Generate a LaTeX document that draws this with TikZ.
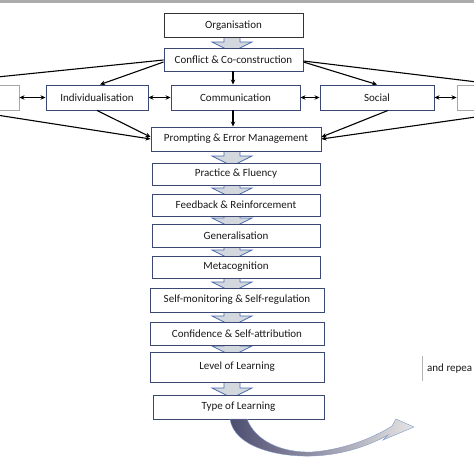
\documentclass[tikz,border=0pt]{standalone}
\usepackage{fontspec}
\setmainfont{Carlito}
\usetikzlibrary{calc,arrows.meta}
\definecolor{boxline}{HTML}{3C4874}
\definecolor{txt}{HTML}{1A1A1A}
\definecolor{barfill}{HTML}{D3D8DE}
\definecolor{barline}{HTML}{4D6DAE}
\tikzset{
  box/.style={draw=boxline, line width=0.9pt, fill=white, text=txt, inner sep=0pt,
    font=\fontsize{11}{13}\selectfont, minimum height=#1},
  box/.default=24pt,
  graybox/.style={box, draw=gray!70},
  link/.style={line width=1.1pt, black},
  arr/.style={link, -{Stealth[length=5pt,width=4.5pt]}},
  darr/.style={link, {Stealth[length=5pt,width=4.5pt]}-{Stealth[length=5pt,width=4.5pt]}},
  blockarrow/.style={fill=barfill, draw=barline, line width=0.8pt, line join=miter}
}
\newcommand{\blockdown}[2]{% #1 = top y, #2 = head base y
  \path[blockarrow] (224,#1) -- (224,#2) -- (212,#2) -- (232,#2+10) -- (252,#2) -- (240,#2) -- (240,#1) -- cycle;}
\begin{document}
\begin{tikzpicture}[x=1pt,y=-1pt]
\useasboundingbox (0,0) rectangle (474,474);
\clip (0,0) rectangle (474,474);
\fill[white] (0,0) rectangle (474,474);
\fill[gray!65] (0,0) rectangle (474,2.5);

% block arrows (drawn first so boxes cover their tips)
\blockdown{34}{42}
\blockdown{148}{156}
\blockdown{182}{188}
\blockdown{213}{218}
\blockdown{244}{250}
\blockdown{275}{282}
\blockdown{309}{316}
\blockdown{342}{346}
\blockdown{379}{388}

% boxes
\node[box, draw=black!80, minimum width=139pt] (org) at (233.5,25.5) {Organisation};
\node[box, minimum width=139pt, minimum height=23pt] (conf) at (233.5,59.5) {Conflict \& Co-construction};
\node[graybox, minimum width=78pt, minimum height=25pt] (lbox) at (-20,97.5) {};
\node[box, minimum width=102pt, minimum height=25pt] (indiv) at (97,97.5) {Individualisation};
\node[box, minimum width=129pt, minimum height=25pt] (comm) at (235.5,97.5) {Communication};
\node[box, minimum width=114pt, minimum height=25pt] (social) at (377,97.5) {Social};
\node[graybox, minimum width=82pt, minimum height=25pt] (rbox) at (498,97.5) {};
\node[box, minimum width=170pt] (prompt) at (236,139) {Prompting \& Error Management};
\node[box, minimum width=168pt, minimum height=22pt] (practice) at (236,174) {Practice \& Fluency};
\node[box, minimum width=168pt, minimum height=22pt] (feedback) at (236,205) {Feedback \& Reinforcement};
\node[box, minimum width=168pt, minimum height=23pt] (general) at (236,235.5) {Generalisation};
\node[box, minimum width=168pt, minimum height=22pt] (meta) at (236,267) {Metacognition};
\node[box, minimum width=174pt] (selfmon) at (237,300) {Self-monitoring \& Self-regulation};
\node[box, minimum width=174pt, minimum height=23pt] (confid) at (237,333.5) {Confidence \& Self-attribution};
\node[box, minimum width=174pt, minimum height=30pt] (level) at (237,367) {Level of Learning};
\node[box, minimum width=171pt] (type) at (238.5,407) {Type of Learning};

% connectors from Conflict
\draw[link] ($(conf.west)+(0,0.5)$) -- ($(lbox.north east)+(-96,0)$);
\draw[arr] ($(conf.west)+(0,2.5)$) -- ($(indiv.north)+(3,0)$);
\draw[arr] (conf.south -| 233,0) -- (233,0 |- comm.north);
\draw[arr] ($(conf.east)+(0,2.5)$) -- (social.north);
\draw[link] ($(conf.east)+(0,1.5)$) -- (rbox.north);

% row links
\draw[darr] (lbox.east) -- (indiv.west);
\draw[darr] (indiv.east) -- (comm.west);
\draw[darr] (comm.east) -- (social.west);
\draw[darr] (social.east) -- (rbox.west);

% to Prompting
\draw[arr] ($(lbox.south east)+(-52,0)$) -- (prompt.west);
\draw[arr] (indiv.south) -- ($(prompt.west)+(0,-2)$);
\draw[arr] (233,0 |- comm.south) -- (233,0 |- prompt.north);
\draw[arr] ($(social.south)+(11,0)$) -- ($(prompt.east)+(0,-2)$);
\draw[arr] ($(rbox.south west)+(65,0)$) -- (prompt.east);

% curved return arrow
\shade[left color=black!65!blue!40!gray, right color=gray!20, draw=barline!70, line width=0.4pt]
  (230,419) .. controls (234,446) and (275,457) .. (312,456)
  .. controls (345,455) and (372,444) .. (388,435)
  -- (383,440) -- (414,427) -- (396,419) -- (392,426)
  .. controls (370,440) and (340,450) .. (312,452)
  .. controls (280,453) and (255,440) .. (247,419) -- cycle;

% side text
\draw[gray!60, line width=0.8pt] (422,356) -- (422,381);
\node[anchor=west, text=txt, font=\fontsize{11}{13}\selectfont, inner sep=0pt] (rep) at (427,369) {and repea};
\end{tikzpicture}
\end{document}
